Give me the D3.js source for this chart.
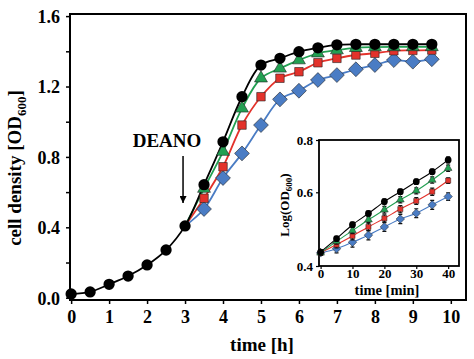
<!DOCTYPE html>
<html><head><meta charset="utf-8">
<script src="https://cdn.jsdelivr.net/npm/d3@7"></script>
<style>
html,body{margin:0;padding:0;background:#fff;}
svg text{font-family:"Liberation Serif","Times New Roman",serif;font-weight:bold;fill:#000;}
</style></head>
<body>
<svg id="c" width="474" height="359"></svg>
<script>
// ---- main chart data ----
const preTimes = [0,0.5,1,1.5,2,2.5,3];
const preValues = [0.021,0.033,0.076,0.123,0.186,0.271,0.408];
const postTimes = [3,3.5,4,4.5,5,5.5,6,6.5,7,7.5,8,8.5,9,9.5];
const blackPost = [0.408,0.642,0.886,1.142,1.322,1.36,1.398,1.42,1.437,1.44,1.44,1.44,1.44,1.44];
const greenPost = [0.408,0.62,0.83,1.076,1.247,1.303,1.35,1.389,1.407,1.42,1.424,1.425,1.425,1.425];
const redPost   = [0.408,0.565,0.744,0.981,1.142,1.247,1.284,1.335,1.36,1.379,1.389,1.403,1.405,1.407];
const bluePost  = [0.408,0.504,0.68,0.82,0.981,1.127,1.176,1.237,1.265,1.298,1.322,1.35,1.341,1.355];
const xTicksMain = [0,1,2,3,4,5,6,7,8,9,10];
const yTicksMain = [0.0,0.4,0.8,1.2,1.6];
const yMinorMain = [0.2,0.6,1.0,1.4];

// ---- inset data ----
const timeMin = [0,5,10,15,20,25,30,35,40];
const insetBlack = [0.432,0.465,0.502,0.534,0.570,0.602,0.636,0.672,0.717];
const insetGreen = [0.430,0.458,0.486,0.516,0.545,0.576,0.605,0.642,0.685];
const insetRed   = [0.430,0.450,0.472,0.496,0.520,0.547,0.572,0.602,0.640];
const insetBlue  = [0.430,0.440,0.456,0.474,0.496,0.518,0.535,0.560,0.586];
const errBlack = [0.006,0.006,0.007,0.007,0.009,0.009,0.009,0.01,0.012];
const errGreen = [0.006,0.007,0.008,0.008,0.01,0.01,0.01,0.011,0.012];
const errRed   = [0.006,0.008,0.01,0.01,0.01,0.011,0.011,0.012,0.01];
const errBlue  = [0.006,0.01,0.012,0.012,0.012,0.013,0.013,0.014,0.012];
const xTicksInset = [0,10,20,30,40];
const yTicksInset = [0.4,0.6,0.8];

const colors = {black:"#000000", green:"#22a052", red:"#e3322b", blue:"#4a7cc4"};

// wide diamond (square rotated 45deg)
const wideDiamond = {draw(ctx, size){ const r = Math.sqrt(size/2);
  ctx.moveTo(0,-r); ctx.lineTo(r,0); ctx.lineTo(0,r); ctx.lineTo(-r,0); ctx.closePath(); }};

const svg = d3.select("#c");

// main scales
const x = d3.scaleLinear().domain([-0.03,10.4]).range([70,466]);
const y = d3.scaleLinear().domain([-0.013,1.612]).range([300,14]);

// frame
svg.append("rect").attr("x",70).attr("y",14).attr("width",396).attr("height",286)
  .attr("fill","none").attr("stroke","#000").attr("stroke-width",2);

// y axis
const yAx = svg.append("g").attr("transform","translate(70,0)")
  .call(d3.axisLeft(y).tickValues(yTicksMain.concat(yMinorMain)).tickSize(4).tickPadding(6)
    .tickFormat(d => yTicksMain.some(t=>Math.abs(t-d)<1e-9) ? d3.format(".1f")(d) : ""));
yAx.select(".domain").remove();
yAx.selectAll("line").attr("stroke","#000").attr("stroke-width",1.5);
yAx.selectAll("text").style("font-size","18px").attr("font-family",null).attr("dy","0.35em");

// x axis
const xAx = svg.append("g").attr("transform","translate(0,300)")
  .call(d3.axisBottom(x).tickValues(xTicksMain).tickSize(4).tickPadding(6).tickFormat(d3.format("d")));
xAx.select(".domain").remove();
xAx.selectAll("line").attr("stroke","#000").attr("stroke-width",1.5);
xAx.selectAll("text").style("font-size","18px").attr("font-family",null);

// axis labels
svg.append("text").attr("x",262).attr("y",351).attr("text-anchor","middle")
  .style("font-size","19px").text("time [h]");
const yl = svg.append("text").attr("transform","translate(21,168) rotate(-90)")
  .attr("text-anchor","middle").style("font-size","19px");
yl.append("tspan").text("cell density [OD");
yl.append("tspan").attr("dy",5).style("font-size","13px").text("600");
yl.append("tspan").attr("dy",-5).text("]");

// DEANO annotation
svg.append("text").attr("x",167).attr("y",147).attr("text-anchor","middle")
  .style("font-size","19px").text("DEANO");
svg.append("defs").append("marker").attr("id","ah").attr("viewBox","0 0 10 10")
  .attr("refX",10).attr("refY",5).attr("markerWidth",7).attr("markerHeight",7)
  .attr("markerUnits","userSpaceOnUse").attr("orient","auto")
  .append("path").attr("d","M0,0L10,5L0,10z").attr("fill","#000");
svg.append("line").attr("x1",x(3)-2).attr("x2",x(3)-2).attr("y1",156).attr("y2",203)
  .attr("stroke","#000").attr("stroke-width",1.5).attr("marker-end","url(#ah)");

// lines
const line = d3.line().x(d=>x(d[0])).y(d=>y(d[1])).curve(d3.curveCatmullRom.alpha(0.5));
const series = [
  {name:"blue", vals:bluePost, shape:wideDiamond, size:110},
  {name:"red", vals:redPost, shape:d3.symbolSquare, size:72},
  {name:"green", vals:greenPost, shape:d3.symbolTriangle, size:72},
  {name:"black", vals:blackPost, shape:d3.symbolCircle, size:100}
];
series.forEach(s=>{
  const pts = postTimes.map((t,i)=>[t,s.vals[i]]);
  const full = s.name==="black" ? preTimes.map((t,i)=>[t,preValues[i]]).concat(pts.slice(1)) : pts;
  svg.append("path").attr("d",line(full)).attr("fill","none")
    .attr("stroke",colors[s.name]).attr("stroke-width",1.8);
});
// pre-DEANO points
svg.append("g").selectAll("path").data(preTimes.map((t,i)=>[t,preValues[i]])).join("path")
  .attr("transform",d=>`translate(${x(d[0])},${y(d[1])})`)
  .attr("d",d3.symbol(d3.symbolCircle,100)).attr("fill","#000");
series.forEach(s=>{
  const pts = postTimes.map((t,i)=>[t,s.vals[i]]).slice(1);
  svg.append("g").selectAll("path").data(pts).join("path")
    .attr("transform",d=>`translate(${x(d[0])},${y(d[1])})`)
    .attr("d",d3.symbol(s.shape,s.size))
    .attr("fill",colors[s.name]).attr("stroke","#222").attr("stroke-width",s.name==="black"?0:0.6);
});

// ---- inset ----
const xi = d3.scaleLinear().domain([-0.5,43.4]).range([319,459]);
const yi = d3.scaleLog().domain([0.4,0.8]).range([266,140]);
svg.append("rect").attr("x",319).attr("y",140).attr("width",140).attr("height",126)
  .attr("fill","#fff").attr("stroke","#000").attr("stroke-width",1.8);

const yiAx = svg.append("g").attr("transform","translate(319,0)")
  .call(d3.axisLeft(yi).tickValues(yTicksInset).tickSize(3).tickPadding(3).tickFormat(d3.format(".1f")));
yiAx.select(".domain").remove();
yiAx.selectAll("line").attr("stroke","#000").attr("stroke-width",1.2);
yiAx.selectAll("text").style("font-size","13px").attr("font-family",null).attr("dy","0.35em");
const xiAx = svg.append("g").attr("transform","translate(0,266)")
  .call(d3.axisBottom(xi).tickValues(xTicksInset).tickSize(3).tickPadding(0).tickFormat(d3.format("d")));
xiAx.select(".domain").remove();
xiAx.selectAll("line").attr("stroke","#000").attr("stroke-width",1.2);
xiAx.selectAll("text").style("font-size","13px").attr("font-family",null).attr("dy","0.68em");

svg.append("text").attr("x",387).attr("y",295).attr("text-anchor","middle")
  .style("font-size","14.5px").text("time [min]");
const yil = svg.append("text").attr("transform","translate(289,205) rotate(-90)")
  .attr("text-anchor","middle").style("font-size","13px");
yil.append("tspan").text("Log(OD");
yil.append("tspan").attr("dy",3).style("font-size","9px").text("600");
yil.append("tspan").attr("dy",-3).text(")");

const insetSeries = [
  {name:"blue", vals:insetBlue, err:errBlue, shape:wideDiamond, size:36},
  {name:"red", vals:insetRed, err:errRed, shape:d3.symbolSquare, size:26},
  {name:"green", vals:insetGreen, err:errGreen, shape:d3.symbolTriangle, size:26},
  {name:"black", vals:insetBlack, err:errBlack, shape:d3.symbolCircle, size:36}
];
const iline = d3.line().x(d=>xi(d[0])).y(d=>yi(d[1])).curve(d3.curveMonotoneX);
insetSeries.forEach(s=>{
  const pts = timeMin.map((t,i)=>[t,s.vals[i],s.err[i]]);
  svg.append("path").attr("d",iline(pts)).attr("fill","none")
    .attr("stroke",colors[s.name]).attr("stroke-width",1.1);
});
insetSeries.forEach(s=>{
  const pts = timeMin.map((t,i)=>[t,s.vals[i],s.err[i]]);
  const g = svg.append("g");
  g.selectAll("path.eb").data(pts).join("path").attr("class","eb")
    .attr("d",d=>{const X=xi(d[0]),a=yi(d[1]-d[2]),b=yi(d[1]+d[2]);
      return `M${X},${a}V${b}M${X-2},${a}H${X+2}M${X-2},${b}H${X+2}`;})
    .attr("stroke","#111").attr("stroke-width",1.2).attr("fill","none");
  g.selectAll("path.mk").data(pts).join("path").attr("class","mk")
    .attr("transform",d=>`translate(${xi(d[0])},${yi(d[1])})`)
    .attr("d",d3.symbol(s.shape,s.size))
    .attr("fill",colors[s.name]).attr("stroke","#222").attr("stroke-width",s.name==="black"?0:0.5);
});
</script>
</body></html>
